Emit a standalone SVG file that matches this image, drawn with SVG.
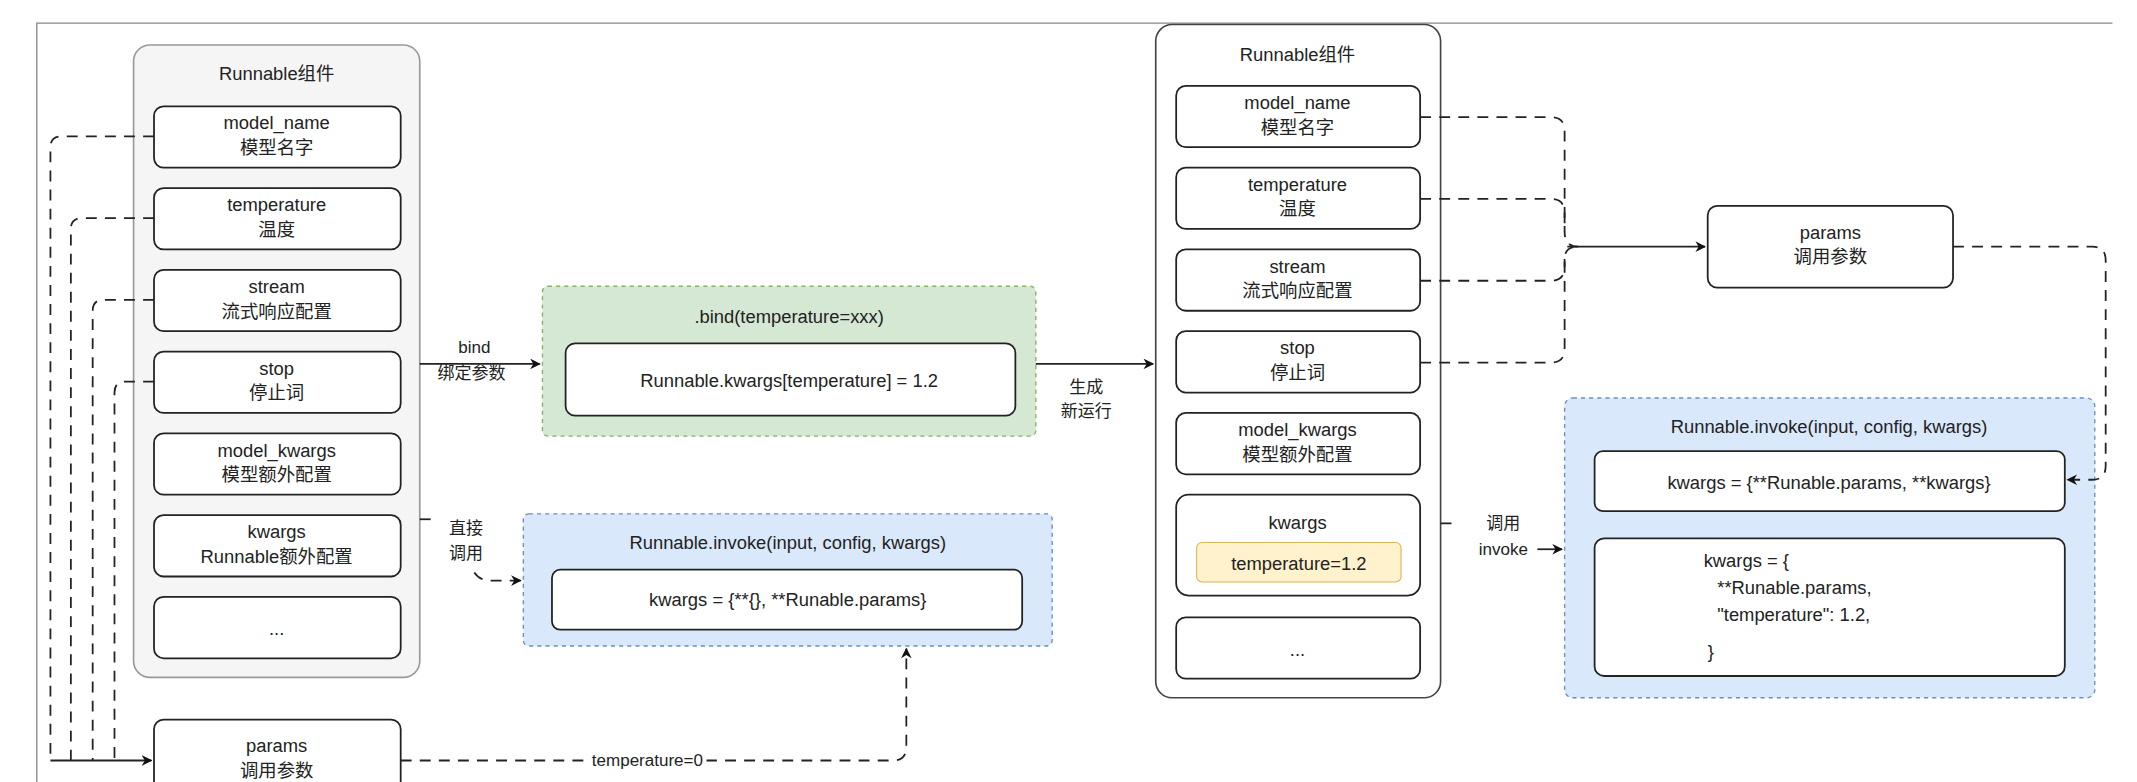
<svg xmlns="http://www.w3.org/2000/svg" width="2137" height="782" viewBox="0 0 2137 782">
<defs>
<marker id="ah" viewBox="0 0 10 10" refX="9" refY="5" markerWidth="6" markerHeight="6" orient="auto-start-reverse"><path d="M0,0 L10,5 L0,10 L3,5 z" fill="#111"/></marker>
<style>
text{font-family:"Liberation Sans","Noto Sans CJK SC",sans-serif;font-size:13.5px;fill:#222;text-anchor:middle}
.item{fill:#fff;stroke:#222;stroke-width:1.3}
.dash{fill:none;stroke:#222;stroke-width:1.3;stroke-dasharray:8 6}
.solid{fill:none;stroke:#222;stroke-width:1.3}
.lbl{font-size:12.5px}
</style>
</defs>
<rect width="2137" height="782" fill="#fff"/>
<g transform="scale(1.3629)">
<path d="M27,574 V17 H1550" fill="none" stroke="#888" stroke-width="1"/>
<g id="left-runnable">
<rect x="98" y="33" width="210" height="464" rx="12" fill="#f5f5f5" stroke="#999" stroke-width="1.2"/>
<text x="203" y="59" fill="#555">Runnable组件</text>
</g>
<g id="l-model_name"><rect class="item" x="113" y="78" width="181" height="45" rx="7"/><text x="203" y="95">model_name</text><text x="203" y="113">模型名字</text></g>
<g id="l-temperature"><rect class="item" x="113" y="138" width="181" height="45" rx="7"/><text x="203" y="155">temperature</text><text x="203" y="173">温度</text></g>
<g id="l-stream"><rect class="item" x="113" y="198" width="181" height="45" rx="7"/><text x="203" y="215">stream</text><text x="203" y="233">流式响应配置</text></g>
<g id="l-stop"><rect class="item" x="113" y="258" width="181" height="45" rx="7"/><text x="203" y="275">stop</text><text x="203" y="293">停止词</text></g>
<g id="l-model_kwargs"><rect class="item" x="113" y="318" width="181" height="45" rx="7"/><text x="203" y="335">model_kwargs</text><text x="203" y="353">模型额外配置</text></g>
<g id="l-kwargs"><rect class="item" x="113" y="378" width="181" height="45" rx="7"/><text x="203" y="395">kwargs</text><text x="203" y="413">Runnable额外配置</text></g>
<g id="l-more"><rect class="item" x="113" y="438" width="181" height="45" rx="7"/><text x="203" y="466" fill="#666">...</text></g>
<g id="l-params"><rect class="item" x="113" y="528" width="181" height="60" rx="7"/><text x="203" y="552">params</text><text x="203" y="570">调用参数</text></g>

<g id="bind-box">
<rect x="398" y="210" width="362" height="110" rx="4" fill="#d5e8d4" stroke="#82b366" stroke-dasharray="3 3"/>
<text x="579" y="237">.bind(temperature=xxx)</text>
<rect class="item" x="415" y="252" width="330" height="53" rx="7"/>
<text x="579" y="284">Runnable.kwargs[temperature] = 1.2</text>
</g>
<g id="invoke1">
<rect x="384" y="377" width="388" height="97" rx="4" fill="#dae8fc" stroke="#6c8ebf" stroke-dasharray="3 3"/>
<text x="578" y="403">Runnable.invoke(input, config, kwargs)</text>
<rect class="item" x="405" y="418" width="345" height="44" rx="6"/>
<text x="578" y="445">kwargs = {**{}, **Runable.params}</text>
</g>

<g id="right-runnable">
<rect x="848" y="18" width="209" height="494" rx="12" fill="#fff" stroke="#444" stroke-width="1.2"/>
<text x="952" y="45">Runnable组件</text>
</g>
<g id="r-model_name"><rect class="item" x="863" y="63" width="179" height="45" rx="7"/><text x="952" y="80">model_name</text><text x="952" y="98">模型名字</text></g>
<g id="r-temperature"><rect class="item" x="863" y="123" width="179" height="45" rx="7"/><text x="952" y="140">temperature</text><text x="952" y="158">温度</text></g>
<g id="r-stream"><rect class="item" x="863" y="183" width="179" height="45" rx="7"/><text x="952" y="200">stream</text><text x="952" y="218">流式响应配置</text></g>
<g id="r-stop"><rect class="item" x="863" y="243" width="179" height="45" rx="7"/><text x="952" y="260">stop</text><text x="952" y="278">停止词</text></g>
<g id="r-model_kwargs"><rect class="item" x="863" y="303" width="179" height="45" rx="7"/><text x="952" y="320">model_kwargs</text><text x="952" y="338">模型额外配置</text></g>
<g id="r-kwargs"><rect class="item" x="863" y="363" width="179" height="74" rx="9"/><text x="952" y="388">kwargs</text>
<rect x="878" y="398" width="150" height="29" rx="4" fill="#fff2cc" stroke="#d6b656" stroke-width="0.8"/><text x="953" y="418">temperature=1.2</text></g>
<g id="r-more"><rect class="item" x="863" y="453" width="179" height="45" rx="7"/><text x="952" y="481" fill="#666">...</text></g>

<g id="r-params"><rect class="item" x="1253" y="151" width="180" height="60" rx="7"/><text x="1343" y="175">params</text><text x="1343" y="193">调用参数</text></g>

<g id="invoke2">
<rect x="1148" y="292" width="389" height="220" rx="6" fill="#dae8fc" stroke="#6c8ebf" stroke-dasharray="3 3"/>
<text x="1342" y="318">Runnable.invoke(input, config, kwargs)</text>
<rect class="item" x="1170" y="331" width="345" height="44" rx="6"/>
<text x="1342" y="359">kwargs = {**Runable.params, **kwargs}</text>
<rect class="item" x="1170" y="395" width="345" height="101" rx="7"/>
<text x="1250" y="416" style="text-anchor:start">kwargs = {</text>
<text x="1260" y="436" style="text-anchor:start">**Runable.params,</text>
<text x="1260" y="456" style="text-anchor:start">"temperature": 1.2,</text>
<text x="1253" y="483" style="text-anchor:start">}</text>
</g>

<g id="connectors">
<path class="solid" d="M308,267 H396" marker-end="url(#ah)"/>
<text class="lbl" x="348" y="259" style="fill:#fff;stroke:#fff;stroke-width:4">bind</text>
<text class="lbl" x="348" y="259">bind</text>
<text class="lbl" x="346" y="278">绑定参数</text>
<path class="solid" d="M760,267 H846" marker-end="url(#ah)"/>
<text class="lbl" x="797" y="288">生成</text>
<text class="lbl" x="797" y="306">新运行</text>
<path class="dash" d="M308,381 H322"/>
<text class="lbl" x="342" y="392">直接</text>
<text class="lbl" x="342" y="410">调用</text>
<path class="dash" d="M348,420 Q352,426 360,426 H382" marker-end="url(#ah)"/>
<path class="dash" d="M1057,384 H1070"/>
<text class="lbl" x="1103" y="388">调用</text>
<text class="lbl" x="1103" y="407">invoke</text>
<path class="solid" d="M1128,403 H1146" marker-end="url(#ah)"/>
<path class="dash" d="M113,100 H45 Q37,100 37,108 V558"/>
<path class="dash" d="M113,160 H60 Q52,160 52,168 V558"/>
<path class="dash" d="M113,220 H76 Q68,220 68,228 V558"/>
<path class="dash" d="M113,280 H92 Q84,280 84,288 V558"/>
<path class="solid" d="M37,558 H111" marker-end="url(#ah)"/>
<path class="dash" d="M294,558 H655 Q665,558 665,548 V476" marker-end="url(#ah)"/>
<text class="lbl" x="475" y="562" style="fill:#fff;stroke:#fff;stroke-width:6">temperature=0</text>
<text class="lbl" x="475" y="562">temperature=0</text>
<path class="dash" d="M1042,86 H1138 Q1148,86 1148,96 V170 Q1148,181 1158,181"/>
<path class="dash" d="M1042,146 H1138 Q1148,146 1148,156 V170"/>
<path class="dash" d="M1042,206 H1138 Q1148,206 1148,196 V190"/>
<path class="dash" d="M1042,266 H1138 Q1148,266 1148,256 V190 Q1148,181 1158,181"/>
<path class="solid" d="M1150,181 H1251" marker-end="url(#ah)"/>
<path class="dash" d="M1433,181 H1535 Q1545,181 1545,191 V342 Q1545,352 1535,352 H1517" marker-end="url(#ah)"/>
</g>
</g>
</svg>
